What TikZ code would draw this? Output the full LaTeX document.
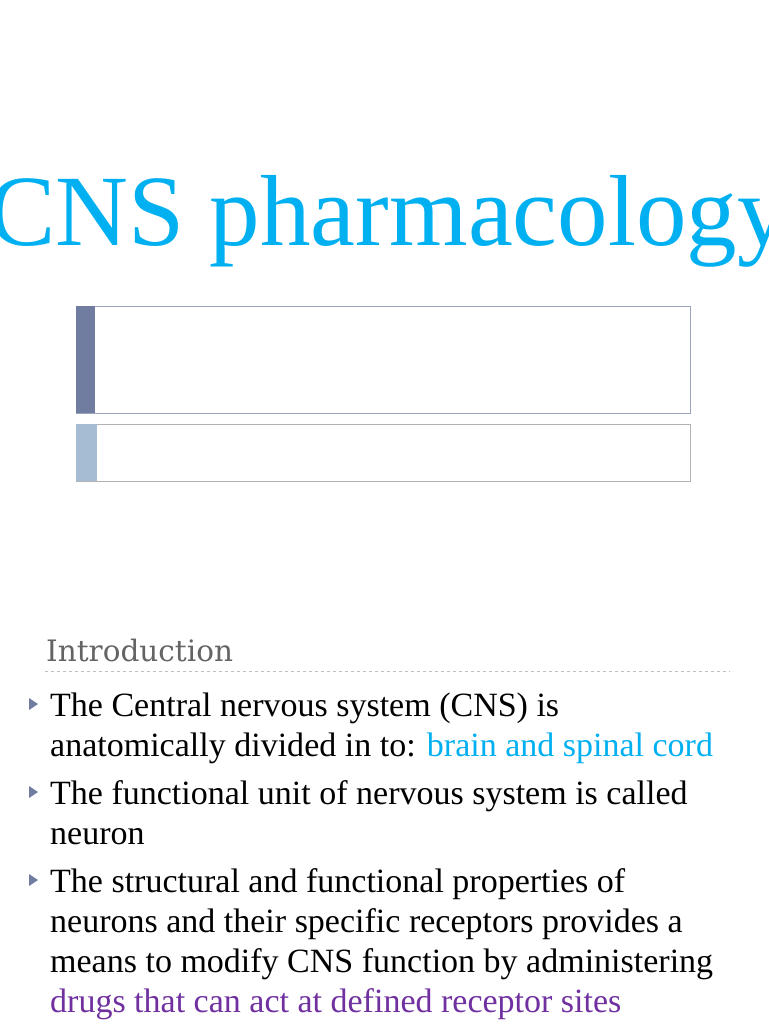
\documentclass[tikz,border=0pt]{standalone}
\usepackage{fontspec}
\setmainfont{Liberation Serif}
\newfontfamily\introfont{DejaVu Serif}
\definecolor{ttl}{RGB}{0,176,240}
\definecolor{pur}{RGB}{112,48,160}
\definecolor{bar1}{RGB}{112,124,160}
\definecolor{bar2}{RGB}{165,188,210}
\definecolor{intro}{RGB}{100,100,100}
\begin{document}
\begin{tikzpicture}[x=1pt,y=1pt,
  txt/.style={anchor=base west,inner sep=0,font=\fontsize{34}{40}\selectfont}]
\useasboundingbox (0,0) rectangle (768,-1024);
\fill[white] (0,0) rectangle (768,-1024);
\node[anchor=base,inner sep=0,text=ttl,font=\fontsize{101}{101}\selectfont] (title) at (388,-245) {CNS pharmacology};
\node[draw=bar1!70,fill=white,minimum width=614,minimum height=107,inner sep=0,anchor=north west] (b1) at (76,-306) {};
\fill[bar1] (76,-306) rectangle (95,-413);
\node[draw=black!30,fill=white,minimum width=614,minimum height=57,inner sep=0,anchor=north west] (b2) at (76,-424) {};
\fill[bar2] (76,-424) rectangle (97,-481);
\node[anchor=base west,inner sep=0,text=intro,font=\introfont\fontsize{29.5}{30}\selectfont] (in) at (46,-661) {Introduction};
\draw[black!25,dashed] (45,-671) -- (730,-671);
\foreach \y in {-704,-792,-880}{\fill[bar1] (29,\y+6) -- (38,\y) -- (29,\y-6) -- cycle;}
\node[txt] (l1) at (50,-716) {The Central nervous system (CNS) is};
\node[txt] (l2) at (50,-756) {anatomically divided in to: \textcolor{ttl}{brain and spinal cord}};
\node[txt] (l3) at (50,-804) {The functional unit of nervous system is called};
\node[txt] (l4) at (50,-844) {neuron};
\node[txt] (l5) at (50,-892) {The structural and functional properties of};
\node[txt] (l6) at (50,-932) {neurons and their specific receptors provides a};
\node[txt] (l7) at (50,-972) {means to modify CNS function by administering};
\node[txt,text=pur] (l8) at (50,-1012) {drugs that can act at defined receptor sites};
\end{tikzpicture}
\end{document}
